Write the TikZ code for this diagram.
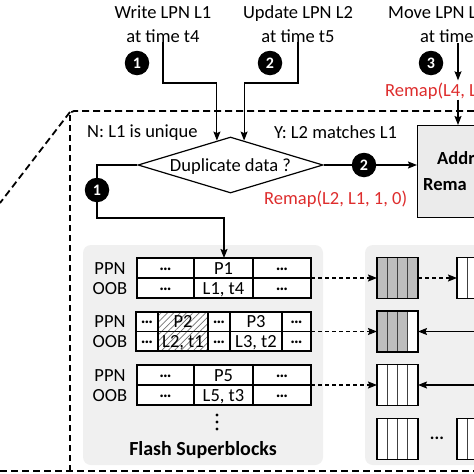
\documentclass[tikz,border=0pt]{standalone}
\usepackage{fontspec}
\setmainfont{Carlito}
\usetikzlibrary{arrows.meta,calc,shapes.geometric,patterns.meta}
\definecolor{remapred}{RGB}{222,45,45}
\definecolor{panelgray}{gray}{0.94}
\definecolor{boxgray}{gray}{0.92}
\definecolor{stripgray}{gray}{0.74}
\newcommand{\mdots}{·\kern-1pt·\kern-1pt·}
\begin{document}
\begin{tikzpicture}[x=1pt,y=-1pt,
  font=\fontsize{18.5}{22}\selectfont,
  txt/.style={inner sep=0pt, text height=12pt, text depth=0pt},
  boldtxt/.style={txt, font=\fontsize{18.5}{22}\selectfont\bfseries},
  arr/.style={-{Stealth[length=9pt,width=7pt,inset=1.5pt]}, line width=1.1pt},
  darr/.style={arr, dash pattern=on 4pt off 3pt},
  plain/.style={line width=1.1pt},
  badge/.style={circle, fill=black, text=white, inner sep=0pt, minimum size=24.5pt,
    font=\fontsize{16}{16}\selectfont\bfseries},
  remaptxt/.style={txt, text=remapred},
  tbl/.style={fill=white, inner sep=0pt, outer sep=0pt},
  grid/.style={line width=1.2pt},
  blk/.style={inner sep=0pt, outer sep=0pt, minimum width=41pt, minimum height=41pt},
  outerdash/.style={line width=1.8pt, dash pattern=on 7pt off 4pt},
  innerdash/.style={line width=1.3pt, dash pattern=on 6pt off 4pt},
]
\useasboundingbox (0,0) rectangle (474,474);
\clip (0,0) rectangle (474,474);
\fill[white] (0,0) rectangle (474,474);

% outer dashed frame
\draw[outerdash] (474,111) -- (74,111) arc[start angle=90, end angle=180, radius=4pt];
\draw[innerdash] (70,115) -- (70,471);
\draw[outerdash] (70,112) -- (0,203);
\draw[outerdash] (0,471) -- (474,471);

% panels
\fill[panelgray, rounded corners=8pt] (83,245) rectangle (323,465);
\fill[panelgray, rounded corners=8pt] (365,245) rectangle (600,465);

% top texts
\node[txt] (w1) at (163,12) {Write LPN L1};
\node[txt] (w1b) at (163,36) {at time t4};
\node[txt] (u2) at (298,12) {Update LPN L2};
\node[txt] (u2b) at (298,36) {at time t5};
\node[txt, anchor=west] (m3) at (388,12) {Move LPN L};
\node[txt, anchor=west] (m3b) at (420,36) {at time};

\node[badge] (b1) at (137,63) {1};
\node[badge] (b2) at (270,63) {2};
\node[badge] (b3) at (431,63) {3};

% diamond
\node[txt, diamond, draw, line width=1.2pt, minimum width=185pt, minimum height=56pt,
  aspect=3.3] (dup) at (230.5,165) {Duplicate data ?};
\coordinate (dupinL) at ($(dup.north)!0.146!(dup.west)$);
\coordinate (dupinR) at ($(dup.north)!0.146!(dup.east)$);
\coordinate (k1) at (163,83);
\coordinate (k2) at (298,83);
\draw[arr] (w1b.south) -- (k1) -| (dupinL);
\draw[arr] (u2b.south) -- (k2) -| (dupinR);

\node[txt, anchor=west] (nlbl) at (87,131) {N: L1 is unique};
\node[txt, anchor=west] (ylbl) at (274,132) {Y: L2 matches L1};

% address remapping box
\node[draw, fill=boxgray, line width=1.2pt, minimum width=150pt, minimum height=92pt,
  anchor=north west, inner sep=0pt] (addr) at (417,125) {};
\node[boldtxt, anchor=west] (addrt) at (437,158.5) {Addr};
\node[boldtxt, anchor=west] (remat) at (423,184) {Rema};

\node[badge] (b2m) at (364,165) {2};
\draw[plain] (dup.east) -- (b2m);
\draw[arr] (b2m) -- (b2m -| addr.west);
\node[remaptxt, anchor=west] (rm2) at (264,198.5) {Remap(L2, L1, 1, 0)};

% move arrow
\node[remaptxt, anchor=west] (rm4) at (385,90.5) {Remap(L4, L};
\coordinate (m3a) at (458,43);
\draw[arr, shorten >=4pt] (m3a) -- (m3a |- rm4.north);
\draw[arr, shorten <=3pt] (m3a |- rm4.south) -- (m3a |- addr.north);

% tables
\node[tbl, minimum width=174pt, minimum height=40pt] (t1) at (224,278) {};
\node[tbl, minimum width=175pt, minimum height=39pt] (t2) at (223.5,331.5) {};
\node[tbl, minimum width=174pt, minimum height=40pt] (t3) at (224,385) {};

\fill[pattern={Lines[angle=45,distance=4.5pt,line width=0.7pt]}, pattern color=black!55]
  (158,312) rectangle (208,351);

\draw[grid] (t1.north west) rectangle (t1.south east);
\draw[grid] (t1.west) -- (t1.east);
\draw[grid] (194,258) -- (194,298);
\draw[grid] (253,258) -- (253,298);

\draw[grid] (t2.north west) rectangle (t2.south east);
\draw[grid] (t2.west) -- (t2.east);
\foreach \cx in {158,208,230,282} \draw[grid] (\cx,312) -- (\cx,351);

\draw[grid] (t3.north west) rectangle (t3.south east);
\draw[grid] (t3.west) -- (t3.east);
\draw[grid] (194,365) -- (194,405);
\draw[grid] (253,365) -- (253,405);

% row labels
\node[txt] (ppn1) at (110,268) {PPN};
\node[txt] (oob1) at (110,288) {OOB};
\node[txt] (ppn2) at (110,321.7) {PPN};
\node[txt] (oob2) at (110,341.2) {OOB};
\node[txt] (ppn3) at (110,375) {PPN};
\node[txt] (oob3) at (110,395) {OOB};

% cell texts row 1
\node[txt] (c11) at (165.5,268) {\mdots};
\node[txt] (c12) at (223.5,268) {P1};
\node[txt] (c13) at (282,268) {\mdots};
\node[txt] (c14) at (165.5,288) {\mdots};
\node[txt] (c15) at (223.5,288) {L1, t4};
\node[txt] (c16) at (282,288) {\mdots};
% row 2
\node[txt] (c21) at (147,321.7) {\mdots};
\node[txt] (c22) at (183,321.7) {P2};
\node[txt] (c23) at (219,321.7) {\mdots};
\node[txt] (c24) at (256,321.7) {P3};
\node[txt] (c25) at (296.5,321.7) {\mdots};
\node[txt] (c26) at (147,341.2) {\mdots};
\node[txt] (c27) at (183,341.2) {L2, t1};
\node[txt] (c28) at (219,341.2) {\mdots};
\node[txt] (c29) at (256,341.2) {L3, t2};
\node[txt] (c2a) at (296.5,341.2) {\mdots};
% row 3
\node[txt] (c31) at (165.5,375) {\mdots};
\node[txt] (c32) at (223.5,375) {P5};
\node[txt] (c33) at (282,375) {\mdots};
\node[txt] (c34) at (165.5,395) {\mdots};
\node[txt] (c35) at (223.5,395) {L5, t3};
\node[txt] (c36) at (282,395) {\mdots};

% vertical ellipsis
\foreach \dy in {415,422,429} \fill (217,\dy) circle (1.6pt);

\node[txt, font=\fontsize{20}{22}\selectfont\bfseries, text height=13pt] (flashlbl) at (203,448.5) {Flash Superblocks};

% left branch
\node[badge] (b1l) at (97,190) {1};
\coordinate (lk2) at (97,218);
\draw[plain] (dup.west) -| (b1l);
\draw[arr] (b1l) -- (lk2) -| (t1.north);

% blocks
\node[blk] (blk1) at (397.5,278) {};
\node[blk] (blk2) at (397.5,331.5) {};
\node[blk] (blk3) at (397.5,385) {};
\node[blk] (blk4) at (397.5,439) {};
\node[blk] (blk5) at (477.5,278) {};
\node[blk] (blk6) at (477.5,439) {};
\foreach \b/\g in {blk1/4,blk2/3,blk3/0,blk4/0,blk5/0,blk6/0}{
  \fill[white] (\b.north west) rectangle (\b.south east);
  \ifnum\g>0
    \fill[stripgray] (\b.north west) rectangle ($(\b.south west)+(10.25*\g,0)$);
  \fi
  \foreach \k in {1,2,3}
    \draw[line width=0.8pt, black!75] ($(\b.north west)+(10.25*\k,0)$) -- ($(\b.south west)+(10.25*\k,0)$);
  \draw[line width=1.4pt] (\b.north west) rectangle (\b.south east);
}
\node[txt] (bdots) at (437,437) {···};

% arrows tables -> blocks
\draw[darr] (t1.east) -- (blk1.west);
\draw[darr] (t2.east) -- (blk2.west);
\draw[darr] (t3.east) -- (blk3.west);
\draw[darr] (blk1.east) -- (blk5.west);
\coordinate (r2) at (480,331.5);
\coordinate (r3) at (480,385);
\draw[arr] (r2) -- (blk2.east);
\draw[arr] (r3) -- (blk3.east);
\end{tikzpicture}
\end{document}
